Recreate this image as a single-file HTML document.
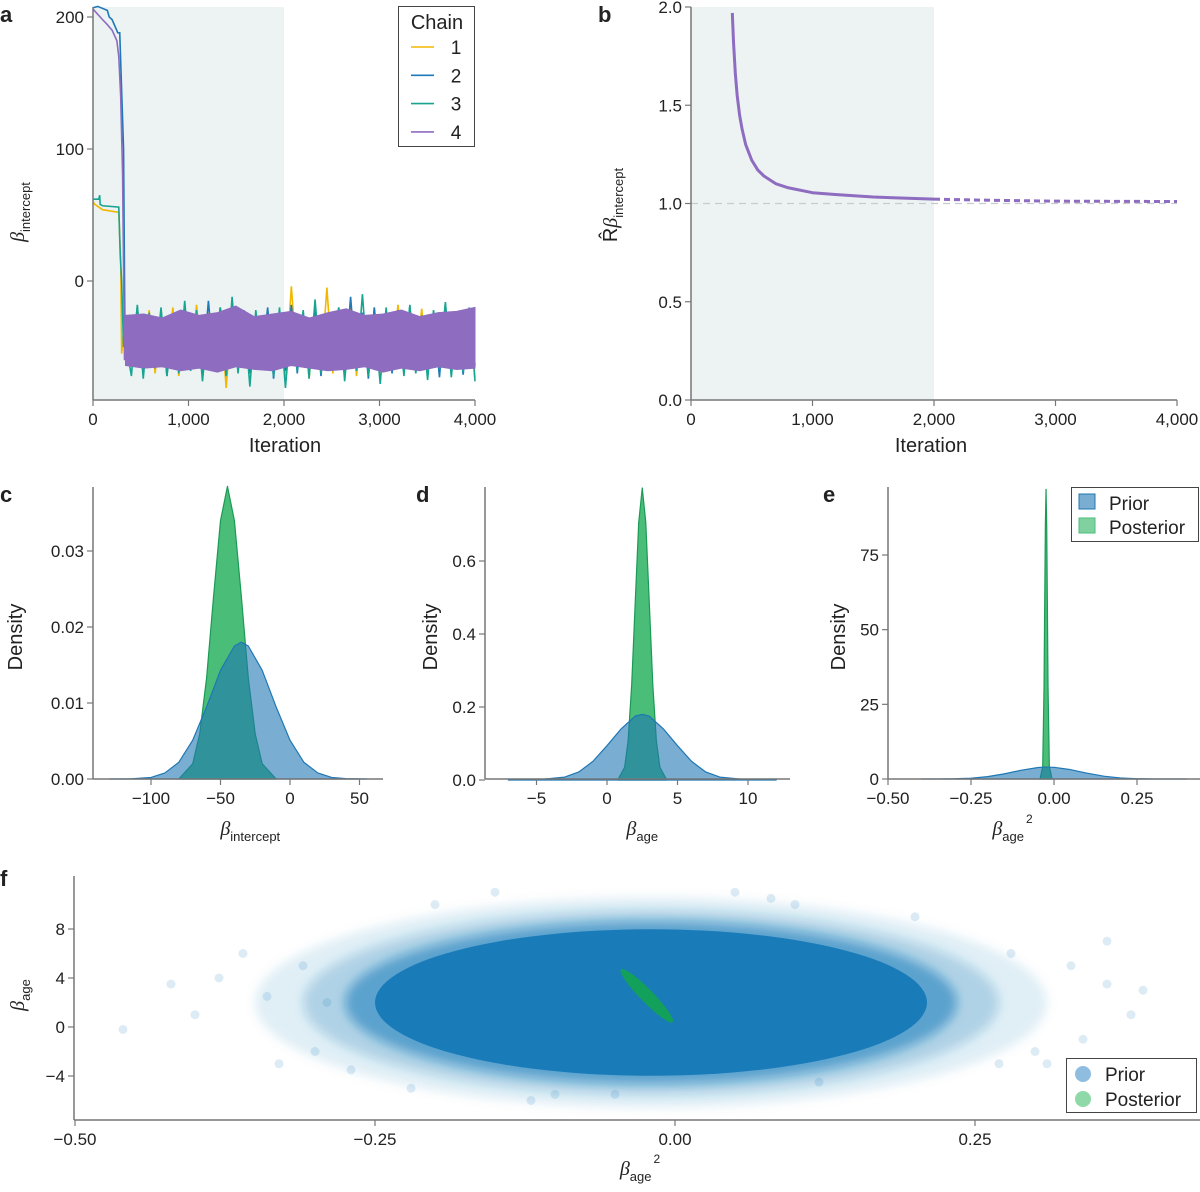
<!DOCTYPE html>
<html><head><meta charset="utf-8">
<style>
html,body{margin:0;padding:0;background:#fff;}
svg{display:block;font-family:"Liberation Sans",sans-serif;}
</style></head>
<body>
<svg id="fig" width="1200" height="1192" viewBox="0 0 1200 1192" xmlns="http://www.w3.org/2000/svg">
<g id="root"></g>
</svg>
<script>
// ---------- Panel a data ----------
const chainNames=["1","2","3","4"];
const chainColors=["#f2b700","#1f78b8","#17a592","#8e6cc0"];
const burnIters1=[0,20,60,100,270,290,300,320,340];
const burnVals1=[60,58,56,54,52,15,-55,-40,-30];
const burnIters2=[0,50,150,170,200,260,280,320,335,340];
const burnVals2=[207,208,205,200,198,188,188,100,-50,-35];
const burnIters3=[0,60,70,75,100,270,285,300,320,340];
const burnVals3=[62,62,65,58,57,56,20,0,-50,-45];
const burnIters4=[0,100,140,200,250,270,290,310,330,340];
const burnVals4=[206,198,195,190,182,170,140,80,-60,-40];
const postVals1=[-30,-62,-25,-68,-22,-70,-28,-66,-20,-72,-26,-64,-18,-70,-24,-68,-20,-81,-22,-66,-30,-70,-25,-64,-22,-68,-22,-72,-4,-66,-26,-74,-20,-68,-5,-70,-22,-66,-16,-72,-24,-68,-20,-76,-26,-64,-18,-60,-28,-66,-21,-70,-25,-63,-19,-71,-27,-67,-23,-73];
const postVals2=[-35,-60,-20,-70,-26,-66,-22,-72,-28,-64,-18,-68,-24,-70,-15,-66,-20,-72,-26,-64,-22,-70,-28,-66,-20,-74,-24,-68,-18,-70,-26,-64,-22,-72,-28,-66,-20,-70,-12,-68,-24,-74,-20,-66,-26,-70,-22,-62,-19,-69,-27,-65,-23,-73,-17,-67,-25,-71,-21,-64];
const postVals3=[-45,-72,-18,-74,-24,-66,-20,-72,-26,-70,-15,-68,-22,-76,-28,-64,-20,-72,-12,-70,-24,-80,-22,-66,-26,-72,-20,-81,-28,-68,-22,-74,-14,-70,-26,-66,-20,-76,-24,-68,-10,-72,-26,-78,-20,-66,-24,-72,-18,-70,-26,-75,-22,-67,-16,-73,-24,-69,-20,-76];
const band4Upper=[-26,-25,-28,-22,-26,-24,-19,-27,-25,-23,-28,-24,-21,-26,-25,-22,-27,-24,-23,-20];
const band4Lower=[-64,-66,-65,-68,-66,-69,-65,-67,-68,-64,-66,-68,-67,-65,-69,-66,-68,-65,-67,-66];
const aXTicks=[0,1000,2000,3000,4000];
const aXTickLabels=["0","1,000","2,000","3,000","4,000"];
const aYTicks=[0,100,200];
// ---------- Panel b data ----------
const rhatIters=[340,350,365,380,400,420,450,500,550,600,700,800,1000,1200,1500,2000];
const rhatVals=[1.97,1.82,1.66,1.55,1.45,1.38,1.30,1.22,1.17,1.14,1.10,1.08,1.055,1.045,1.033,1.022];
const rhatDashIters=[2000,2500,3000,4000];
const rhatDashVals=[1.022,1.016,1.012,1.01];
const bYTicks=[0,0.5,1.0,1.5,2.0];
const bYTickLabels=["0.0","0.5","1.0","1.5","2.0"];
// ---------- Panel c data ----------
const cPriorX=[-130,-115,-100,-90,-80,-70,-60,-50,-40,-35,-30,-20,-10,0,10,20,30,40,55];
const cPriorY=[0,0.00002,0.0002,0.0008,0.0022,0.0051,0.0095,0.0143,0.0175,0.018,0.0175,0.0143,0.0095,0.0051,0.0022,0.0008,0.0002,0.00005,0];
const cPostX=[-80,-70,-65,-60,-55,-50,-45,-40,-35,-30,-25,-20,-10];
const cPostY=[0,0.002,0.0059,0.0133,0.024,0.034,0.0385,0.034,0.024,0.0133,0.0059,0.002,0];
const cXTicks=[-100,-50,0,50];
const cXTickLabels=["\u2212100","\u221250","0","50"];
const cYTicks=[0,0.01,0.02,0.03];
const cYTickLabels=["0.00","0.01","0.02","0.03"];
// ---------- Panel d data ----------
const dPriorX=[-7,-5,-3,-2,-1,0,1,2,2.5,3,4,5,6,7,8,10,12];
const dPriorY=[0,0.0005,0.0079,0.022,0.051,0.094,0.14,0.175,0.18,0.175,0.14,0.094,0.051,0.022,0.0079,0.0005,0];
const dPostX=[0.8,1.25,1.5,1.75,2,2.25,2.5,2.75,3,3.25,3.5,3.75,4.2];
const dPostY=[0.0025,0.035,0.108,0.26,0.485,0.706,0.8,0.706,0.485,0.26,0.108,0.035,0.0025];
const dXTicks=[-5,0,5,10];
const dXTickLabels=["\u22125","0","5","10"];
const dYTicks=[0,0.2,0.4,0.6];
const dYTickLabels=["0.0","0.2","0.4","0.6"];
// ---------- Panel e data ----------
const ePriorX=[-0.4,-0.35,-0.3,-0.25,-0.2,-0.15,-0.1,-0.05,-0.03,0,0.05,0.1,0.15,0.2,0.25,0.3,0.4];
const ePriorY=[0,0.017,0.08,0.28,0.79,1.72,2.9,3.8,4.0,3.92,3.13,1.95,0.94,0.36,0.11,0.024,0];
const ePostX=[-0.042,-0.034,-0.030,-0.028,-0.026,-0.024,-0.022,-0.020,-0.018,-0.014,-0.006];
const ePostY=[0,4.2,31,59,85,97,85,59,31,4.2,0];
const eXTicks=[-0.5,-0.25,0,0.25];
const eXTickLabels=["\u22120.50","\u22120.25","0.00","0.25"];
const eYTicks=[0,25,50,75];
// ---------- Panel f data ----------
const fPriorMean=[-0.02,2.0];
const fPriorSd=[0.1,2.6];
const fPostStart=[-0.045,4.7];
const fPostEnd=[-0.002,0.4];
const fOutX=[-0.46,-0.4,-0.42,-0.36,-0.33,-0.31,-0.3,-0.29,0.3,0.33,0.36,0.38,0.39,0.31,0.28,-0.12,-0.05,0.08,-0.2,0.12,-0.15,0.05,-0.34,-0.27,0.27,0.34,-0.38,0.36,-0.22,0.2,-0.1,0.1];
const fOutY=[-0.2,1.0,3.5,6.0,-3.0,5.0,-2.0,2.0,-2.0,5.0,7.0,1.0,3.0,-3.0,6.0,-6.0,-5.5,10.5,10.0,-4.5,11.0,11.0,2.5,-3.5,-3.0,-1.0,4.0,3.5,-5.0,9.0,-5.5,10.0];
const fXTicks=[-0.5,-0.25,0,0.25];
const fXTickLabels=["\u22120.50","\u22120.25","0.00","0.25"];
const fYTicks=[-4,0,4,8];
const fYTickLabels=["\u22124","0","4","8"];

const NS="http://www.w3.org/2000/svg";
const root=document.getElementById('root');
function mk(tag,attrs,parent){const e=document.createElementNS(NS,tag);for(const k in attrs)e.setAttribute(k,attrs[k]);(parent||root).appendChild(e);return e;}
function lin(d0,d1,r0,r1){return v=>r0+(v-d0)*(r1-r0)/(d1-d0);}
function txt(x,y,s,size,anchor,parent){const t=mk('text',{x:x,y:y,'font-size':size,'text-anchor':anchor||'middle',fill:'#222'},parent);t.textContent=s;return t;}
const AX='#777';

function axes(g,x0,x1,y0,y1){
  const l=mk('line',{x1:x0,y1:y0,x2:x0,y2:y1,stroke:AX,'stroke-width':1.5},g);
  
  
  const b=mk('line',{x1:x0,y1:y1,x2:x1,y2:y1,stroke:AX,'stroke-width':1.5},g);
  
  
}
function xticks(g,sx,ticks,labels,yb,size){
  ticks.forEach((v,i)=>{
    const x=sx(v);
    mk('line',{x1:x,y1:yb,x2:x,y2:yb+6,stroke:AX,'stroke-width':1.2},g);
    const t=txt(x,yb+25,labels[i],size||17,'middle',g);
    
    
  });
}
function yticks(g,sy,ticks,labels,xl,size){
  ticks.forEach((v,i)=>{
    const y=sy(v);
    mk('line',{x1:xl-6,y1:y,x2:xl,y2:y,stroke:AX,'stroke-width':1.2},g);
    const t=txt(xl-9,y+6,labels[i],size||17,'end',g);
    
    
  });
}
function letter(x,y,s){const t=txt(x,y,s,22,'start');t.setAttribute('font-weight','bold');}
function betaLabel(g,x,y,sub,sup,rot){
  const t=mk('text',{x:x,y:y,'font-size':20,'text-anchor':'middle',fill:'#222'},g);
  if(rot) t.setAttribute('transform','rotate(-90 '+x+' '+y+')');
  const b=mk('tspan',{'font-style':'italic','font-family':'"Liberation Serif",serif'},t);b.textContent='\u03b2';
  const s=mk('tspan',{'font-size':13,dy:6},t);s.textContent=sub;
  if(sup){const p=mk('tspan',{'font-size':12,dy:-18,dx:2},t);p.textContent=sup;}
  return t;
}

// ===== Panel a =====
letter(0,22,'a');
const ga=mk('g',{});


const ax=lin(0,4000,93,475), ay=lin(0,100,281,149);
const sh=mk('rect',{x:ax(0),y:7,width:ax(2000)-ax(0),height:400-7,fill:'#ecf3f2'},ga);


const burnI=[burnIters1,burnIters2,burnIters3,burnIters4], burnV=[burnVals1,burnVals2,burnVals3,burnVals4];
const postV=[postVals1,postVals2,postVals3];
for(let c=0;c<4;c++){
  let pts=burnI[c].map((it,i)=>ax(it)+','+ay(burnV[c][i]));
  if(c<3){const pv=postV[c];pv.forEach((v,i)=>{const it=340+i*(3660/(pv.length-1));pts.push(ax(it)+','+ay(v));});}
  const p=mk('polyline',{points:pts.join(' '),fill:'none',stroke:chainColors[c],'stroke-width':1.6},ga);
  
  
}
{
  const n=band4Upper.length;const up=[],lo=[];
  for(let i=0;i<n;i++){const it=340+i*(3660/(n-1));up.push(ax(it)+','+ay(band4Upper[i]));lo.unshift(ax(it)+','+ay(band4Lower[i]));}
  const p=mk('polygon',{points:up.concat(lo).join(' '),fill:chainColors[3],stroke:chainColors[3],'stroke-width':1},ga);
  
  
}
axes(ga,93,475,7,400);
xticks(ga,ax,aXTicks,aXTickLabels,400);
yticks(ga,ay,aYTicks,aYTicks.map(String),93);
{const t=txt(285,452,'Iteration',20,'middle',ga);}
{const t=betaLabel(ga,24,212,'intercept',null,true);}
{
  const lg=mk('g',{},ga);
  
  
  mk('rect',{x:398.5,y:6.5,width:76,height:140,fill:'#fff',stroke:'#444','stroke-width':1},lg);
  txt(437,29,'Chain',20,'middle',lg);
  chainNames.forEach((n,i)=>{
    const y=47+i*28.3;
    const e=mk('line',{x1:411,y1:y,x2:434,y2:y,stroke:chainColors[i],'stroke-width':1.6},lg);
    
    
    txt(456,y+7,n,19,'middle',lg);
  });
}

// ===== Panel b =====
letter(598,22,'b');
const gb=mk('g',{});


const bx=lin(0,4000,691,1177), by=lin(0,2,400,7);
{const r=mk('rect',{x:bx(0),y:7,width:bx(2000)-bx(0),height:393,fill:'#ecf3f2'},gb);}
{const l=mk('line',{x1:bx(0),y1:by(1),x2:bx(4000),y2:by(1),stroke:'#c5cccc','stroke-width':1.2,'stroke-dasharray':'7,5'},gb);}
{const p=mk('polyline',{points:rhatIters.map((it,i)=>bx(it)+','+by(rhatVals[i])).join(' '),fill:'none',stroke:'#8e6cc0','stroke-width':3,'stroke-linejoin':'round'},gb);}
{const p=mk('polyline',{points:rhatDashIters.map((it,i)=>bx(it)+','+by(rhatDashVals[i])).join(' '),fill:'none',stroke:'#8e6cc0','stroke-width':3,'stroke-dasharray':'6,4'},gb);}
axes(gb,691,1177,7,400);
xticks(gb,bx,aXTicks,aXTickLabels,400);
yticks(gb,by,bYTicks,bYTickLabels,691);
{const t=txt(931,452,'Iteration',20,'middle',gb);}
{
  const t=mk('text',{x:617,y:205,'font-size':20,'text-anchor':'middle',fill:'#222',transform:'rotate(-90 617 205)'},gb);
  const a=mk('tspan',{},t);a.textContent='R\u0302';
  const b=mk('tspan',{'font-style':'italic','font-family':'"Liberation Serif",serif'},t);b.textContent='\u03b2';
  const s=mk('tspan',{'font-size':13,dy:6},t);s.textContent='intercept';
  
  
}

// ===== density panels =====
const PRIOR_FILL='rgba(31,119,180,0.6)', PRIOR_STROKE='#1f77b4';
const POST_FILL='rgb(74,190,120)', POST_STROKE='#1a9a55';
function area(g,sx,sy,xs,ys,fill,stroke,name){
  const pts=xs.map((v,i)=>sx(v)+','+sy(ys[i]));
  pts.push(sx(xs[xs.length-1])+','+sy(0));pts.unshift(sx(xs[0])+','+sy(0));
  const p=mk('polygon',{points:pts.join(' '),fill:fill,stroke:stroke,'stroke-width':1.2,'stroke-linejoin':'round'},g);
  
  
}
function densityPanel(name,lx,x0,x1,sx,sy,prX,prY,poX,poY,xT,xTL,yT,yTL,sub,sup){
  const g=mk('g',{});
  
  
  area(g,sx,sy,poX,poY,POST_FILL,POST_STROKE,'posterior-density');
  area(g,sx,sy,prX,prY,PRIOR_FILL,PRIOR_STROKE,'prior-density');
  axes(g,x0,x1,487,779);
  xticks(g,sx,xT,xTL,779);
  yticks(g,sy,yT,yTL,x0);
  const d=txt(lx,637,'Density',20,'middle',g);
  d.setAttribute('transform','rotate(-90 '+lx+' 637)');
  
  
  const t=betaLabel(g,sx((xT[0]+xT[xT.length-1])/2)+ (name==='panel-c'?-5:0),835,sub,sup,false);
  
  
  return g;
}
letter(0,502,'c');
densityPanel('panel-c',22,93,383,lin(-100,0,151,290),lin(0,0.03,779,551),cPriorX,cPriorY,cPostX,cPostY,cXTicks,cXTickLabels,cYTicks,cYTickLabels,'intercept',null);
letter(416,502,'d');
densityPanel('panel-d',437,485,790,lin(0,10,607,748),lin(0,0.6,780,561),dPriorX,dPriorY,dPostX,dPostY,dXTicks,dXTickLabels,dYTicks,dYTickLabels,'age',null);
letter(823,502,'e');
const ge=densityPanel('panel-e',845,888,1200,lin(0,0.25,1054,1137),lin(0,75,779,555),ePriorX,ePriorY,ePostX,ePostY,eXTicks,eXTickLabels,eYTicks,eYTicks.map(String),'age','2');
{
  const lg=mk('g',{},ge);
  
  
  mk('rect',{x:1071.5,y:487.5,width:127,height:54,fill:'#fff',stroke:'#444','stroke-width':1},lg);
  const a=mk('rect',{x:1079,y:494,width:16,height:15,fill:PRIOR_FILL,stroke:PRIOR_STROKE},lg);
  
  txt(1109,510,'Prior',19,'start',lg);
  const b=mk('rect',{x:1079,y:518,width:16,height:15,fill:'rgba(74,190,120,0.7)',stroke:'#4abe78'},lg);
  
  txt(1109,534,'Posterior',19,'start',lg);
}

// ===== Panel f =====
letter(0,886,'f');
const gf=mk('g',{});


const fx=lin(0,0.25,675,975), fy=lin(0,4,1027,978);
mk('defs',{},gf).innerHTML='<filter id="blur" x="-20%" y="-40%" width="140%" height="180%"><feGaussianBlur stdDeviation="5"/></filter>';
const cx=fx(fPriorMean[0]), cy=fy(fPriorMean[1]);
const pxsd=fx(fPriorSd[0])-fx(0), pysd=fy(0)-fy(fPriorSd[1]);
fOutX.forEach((v,i)=>{
  const c=mk('circle',{cx:fx(v),cy:fy(fOutY[i]),r:4.5,fill:'#1a7bb9','fill-opacity':0.15},gf);
  
  
});
[[3.3,0.12],[2.9,0.25],[2.55,0.55],[2.3,1]].forEach((k,i)=>{
  const e=mk('ellipse',{cx:cx,cy:cy,rx:pxsd*k[0],ry:pysd*k[0],fill:'#1a7bb9','fill-opacity':k[1],filter:i<3?'url(#blur)':''},gf);
  
  
});
{
  const x1=fx(fPostStart[0]),y1=fy(fPostStart[1]),x2=fx(fPostEnd[0]),y2=fy(fPostEnd[1]);
  const len=Math.hypot(x2-x1,y2-y1), ang=Math.atan2(y2-y1,x2-x1)*180/Math.PI;
  const e=mk('ellipse',{cx:(x1+x2)/2,cy:(y1+y2)/2,rx:len/2,ry:6.5,fill:'#12a05a',transform:'rotate('+ang+' '+(x1+x2)/2+' '+(y1+y2)/2+')'},gf);
  
  
}
axes(gf,74,1200,876,1120);
xticks(gf,fx,fXTicks,fXTickLabels,1120);
yticks(gf,fy,fYTicks,fYTickLabels,74);
{const t=betaLabel(gf,640,1175,'age','2',false);}
{const t=betaLabel(gf,24,995,'age',null,true);}
{
  const lg=mk('g',{},gf);
  
  
  mk('rect',{x:1066.5,y:1058.5,width:130,height:54,fill:'#fff',stroke:'#444','stroke-width':1},lg);
  const a=mk('circle',{cx:1083,cy:1074,r:8,fill:'#8fbde0'},lg);
  
  txt(1105,1081,'Prior',19,'start',lg);
  const b=mk('circle',{cx:1083,cy:1099,r:8,fill:'#8fd9a8'},lg);
  
  txt(1105,1106,'Posterior',19,'start',lg);
}
</script>
</body></html>
